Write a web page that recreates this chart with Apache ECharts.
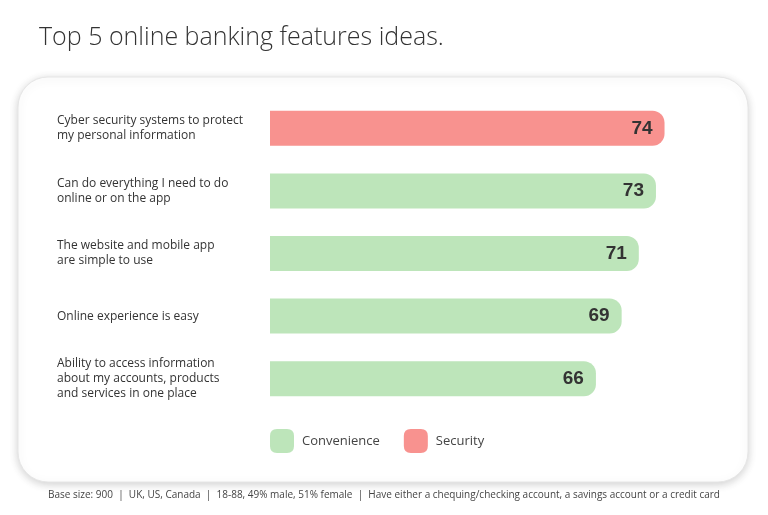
<!DOCTYPE html>
<html>
<head>
<meta charset="utf-8">
<script src="https://cdn.jsdelivr.net/npm/echarts@6/dist/echarts.min.js"></script>
<style>
  html, body { margin: 0; padding: 0; background: #fff; }
  #chart { width: 768px; height: 515px; }
</style>
</head>
<body>
<div id="chart"></div>
<script>
// data
const categories = [
    'Cyber security systems to protect\nmy personal information',
    'Can do everything I need to do\nonline or on the app',
    'The website and mobile app\nare simple to use',
    'Online experience is easy',
    'Ability to access information\nabout my accounts, products\nand services in one place'
];
const convenienceValues = ['-', 73, 71, 69, 66];
const securityValues = [74, '-', '-', '-', '-'];

const titleText = 'Top 5 online banking features ideas.';
const footerText = 'Base size: 900  |  UK, US, Canada  |  18-88, 49% male, 51% female  |  Have either a chequing/checking account, a savings account or a credit card';

const GREEN = '#bde5ba';
const RED = '#f8928f';
const FONT = '"Open Sans", "Noto Sans", sans-serif';
const roundSquare = 'path://M7,0 L17,0 Q24,0 24,7 L24,17 Q24,24 17,24 L7,24 Q0,24 0,17 L0,7 Q0,0 7,0 Z';

document.addEventListener('DOMContentLoaded', () => {
    const chart = echarts.init(document.getElementById('chart'), null, { renderer: 'canvas' });

    const valueLabel = {
        show: true,
        position: 'insideRight',
        distance: 12,
        fontFamily: '"Liberation Sans", Arial, sans-serif',
        fontWeight: 'bold',
        fontSize: 19,
        color: '#333'
    };

    const option = {
        animation: false,
        backgroundColor: '#fff',
        title: {
            text: titleText,
            left: 34,
            top: 20,
            textStyle: { fontFamily: FONT, fontWeight: 300, fontSize: 25, color: '#333' }
        },
        graphic: [
            {
                type: 'rect',
                z: -10,
                shape: { x: 18, y: 77, width: 730, height: 405, r: 30 },
                style: {
                    fill: '#fff',
                    stroke: '#e6e6e6',
                    lineWidth: 1,
                    shadowBlur: 8,
                    shadowOffsetY: 2,
                    shadowColor: 'rgba(0,0,0,0.18)'
                }
            },
            {
                type: 'text',
                left: 'center',
                top: 490,
                style: {
                    text: footerText,
                    fontFamily: FONT,
                    fontSize: 10,
                    fill: '#444'
                }
            }
        ],
        legend: {
            left: 270,
            top: 429,
            padding: 0,
            itemWidth: 24,
            itemHeight: 24,
            itemGap: 24,
            icon: roundSquare,
            data: ['Convenience', 'Security'],
            textStyle: { fontFamily: FONT, fontSize: 13, color: '#444', padding: [0, 0, 0, 3] }
        },
        grid: { left: 270, right: 52, top: 97, height: 313 },
        xAxis: {
            type: 'value',
            min: 28,
            max: 80,
            show: false
        },
        yAxis: {
            type: 'category',
            inverse: true,
            data: categories,
            axisLine: { show: false },
            axisTick: { show: false },
            axisLabel: {
                align: 'left',
                margin: 213,
                fontFamily: FONT,
                fontSize: 12,
                lineHeight: 15,
                color: '#333'
            }
        },
        series: [
            {
                name: 'Convenience',
                type: 'bar',
                data: convenienceValues,
                barWidth: 35,
                barGap: '-100%',
                itemStyle: { color: GREEN, borderRadius: [0, 12, 12, 0] },
                label: valueLabel
            },
            {
                name: 'Security',
                type: 'bar',
                data: securityValues,
                barWidth: 35,
                itemStyle: { color: RED, borderRadius: [0, 12, 12, 0] },
                label: valueLabel
            }
        ]
    };

    chart.setOption(option);
});
</script>
</body>
</html>
